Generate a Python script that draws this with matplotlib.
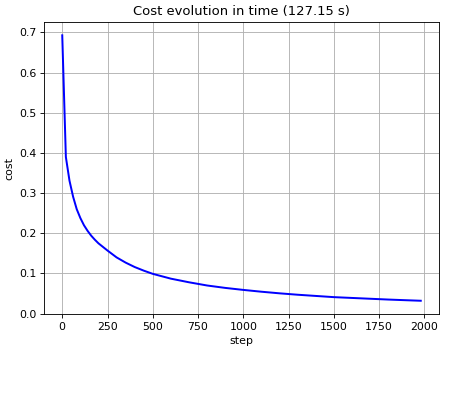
import numpy as np
import matplotlib
matplotlib.use('Agg')
import matplotlib.pyplot as plt

# cost values
steps = [0, 20, 40, 60, 80, 100, 120, 140, 160, 180, 200, 250, 300, 350, 400,
         450, 500, 600, 700, 800, 900, 1000, 1100, 1200, 1300, 1400, 1500,
         1600, 1700, 1800, 1900, 1980]
cost = [0.693, 0.390, 0.331, 0.291, 0.260, 0.238, 0.220, 0.206, 0.194, 0.184,
        0.175, 0.157, 0.140, 0.127, 0.116, 0.107, 0.099, 0.087, 0.078, 0.070,
        0.064, 0.059, 0.0545, 0.0505, 0.047, 0.044, 0.041, 0.039, 0.037,
        0.035, 0.0333, 0.032]
elapsed = 127.15

DPI = 79
fig = plt.figure(figsize=(474 / DPI, 397 / DPI), dpi=DPI)
ax = fig.add_axes([0.0935, 0.209, 0.832, 0.7355])
ax.plot(steps, cost, 'b', linewidth=1.8)
ax.grid(True)
ax.set_xlabel('step')
ax.set_ylabel('cost')
ax.set_title('Cost evolution in time (%.2f s)' % elapsed)
fig.savefig('out.png', dpi=DPI)
